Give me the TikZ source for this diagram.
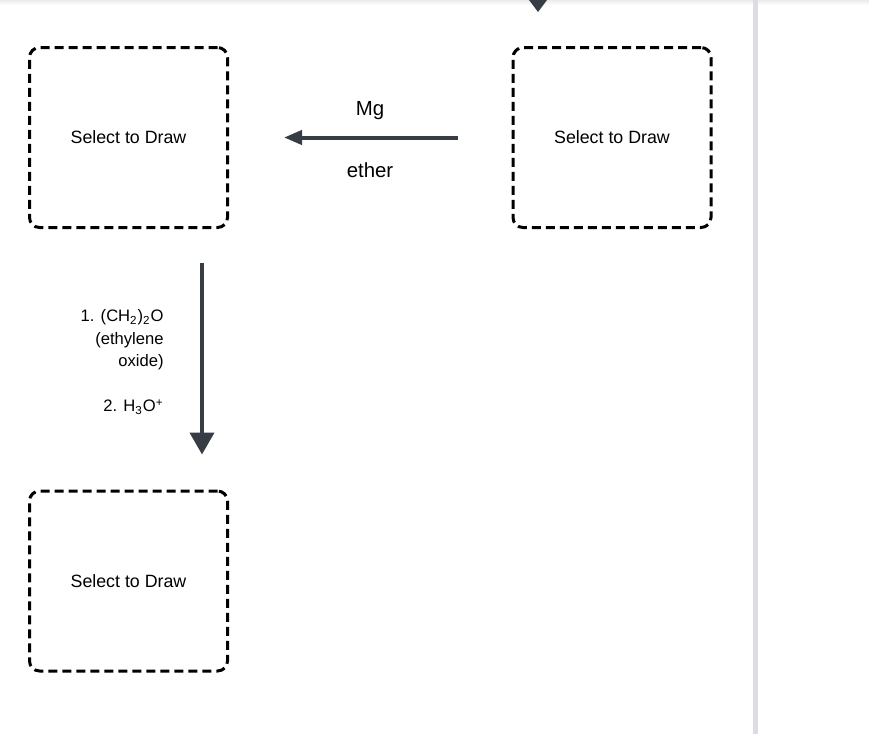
\documentclass[tikz,border=0pt]{standalone}
\usepackage{fontspec}
\setmainfont{Liberation Sans}
\usetikzlibrary{arrows.meta}
\definecolor{arrowgray}{HTML}{373D45}
\definecolor{bargray}{HTML}{DCDDE0}
\tikzset{
  drawbox/.style={draw, line width=1.5pt, dash pattern=on 4.5pt off 2.5pt, rounded corners=5pt,
    minimum width=99pt, minimum height=90pt, font=\fontsize{8.9}{10}\selectfont},
  reagent/.style={font=\fontsize{10.2}{12}\selectfont},
  steps/.style={font=\fontsize{8.3}{11.25}\selectfont, align=right, anchor=east, inner sep=0pt},
  across/.style={draw=arrowgray, line width=2pt, -{Triangle[length=9pt,width=7pt]}},
  down/.style={draw=arrowgray, line width=2pt, -{Triangle[length=11pt,width=12pt]}}
}
\begin{document}
\begin{tikzpicture}[x=0.5pt,y=-0.5pt]
\useasboundingbox (0,0) rectangle (869,734);
\shade[top color=black!8, bottom color=white] (0,0) rectangle (869,5);
\fill[bargray] (753,0) rectangle (758,734);
\fill[arrowgray] (529,0) -- (547,0) -- (538,12) -- cycle;

\node[drawbox] (halide) at (612,137.5) {Select to Draw};
\node[drawbox] (grignard) at (128.5,137.5) {Select to Draw};
\node[drawbox] (alcohol) at (128.5,581) {Select to Draw};

\draw[across, shorten <=27pt, shorten >=27.5pt] (halide.west) -- (grignard.east);
\node[reagent] (mg) at (370,111) {Mg};
\node[reagent] (ether) at (370,170) {ether};

\draw[down, shorten <=17pt, shorten >=17.5pt] ([xshift=36.75pt]grignard.south) -- ([xshift=36.75pt]alcohol.north);
\node[steps] (oxide) at (164,362) {1. (CH\textsubscript{2})\textsubscript{2}O\\(ethylene\\oxide)\\[11.25pt]2. H\textsubscript{3}O\textsuperscript{+}};
\end{tikzpicture}
\end{document}
